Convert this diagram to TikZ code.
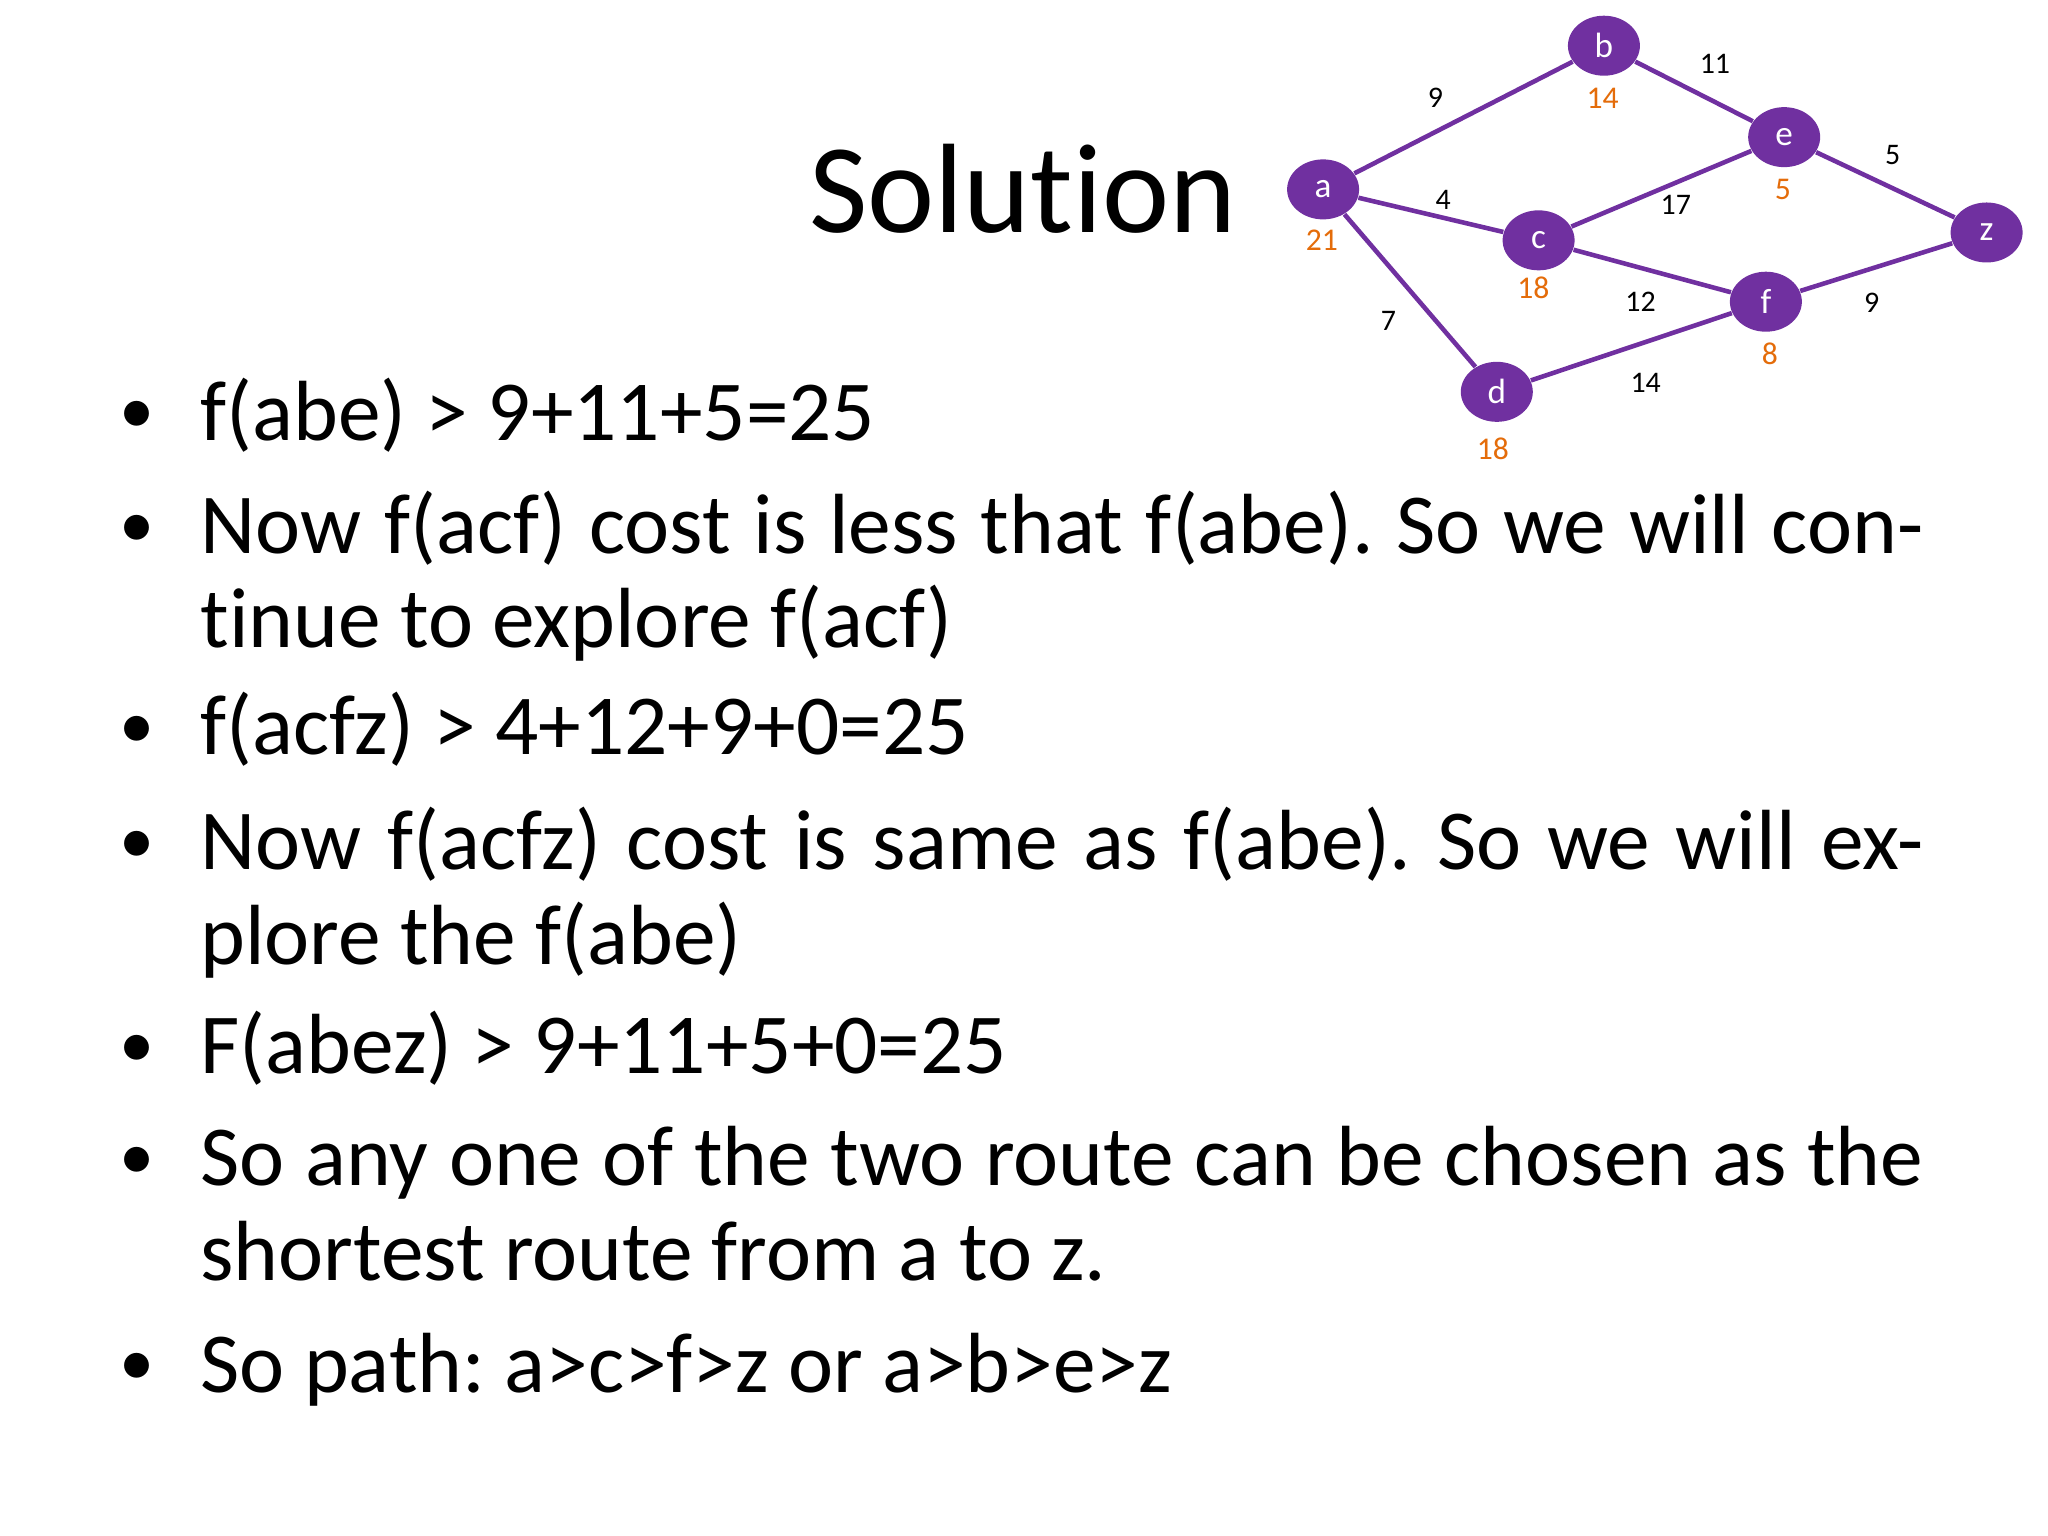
\documentclass[tikz,border=0pt]{standalone}
\usepackage{fontspec}
\setmainfont[Ligatures=NoCommon]{Carlito}
\usetikzlibrary{shapes.geometric}
\definecolor{vert}{HTML}{7030A0}
\definecolor{hv}{HTML}{E46C0A}
\frenchspacing
\begin{document}
\begin{tikzpicture}[x=0.013061cm,y=-0.013061cm,
  vtx/.style={ellipse,fill=vert,minimum width=0.72cm,minimum height=0.6cm,inner sep=0pt,text=white,font=\fontsize{10}{10}\selectfont},
  hlab/.style={text=hv,font=\fontsize{9}{9}\selectfont,inner sep=0pt},
  wlab/.style={font=\fontsize{8.5}{8.5}\selectfont,inner sep=0pt},
  edge/.style={draw=vert,line width=1.3pt},
  item/.style={anchor=base west,inner sep=0pt,font=\fontsize{24.3}{26.8}\selectfont\frenchspacing},
  bul/.style={anchor=base,inner sep=0pt,font=\fontsize{20}{20}\selectfont}]
\useasboundingbox (0,0) rectangle (1568,1176);
\node[anchor=base,inner sep=0pt,font=\fontsize{36.2}{37}\selectfont] (title) at (783,178) {Solution};
% graph
\node[vtx] (a) at (1013,145) {a};
\node[vtx] (b) at (1228,35) {b};
\node[vtx] (c) at (1178,184) {c};
\node[vtx] (d) at (1146,300) {d};
\node[vtx] (e) at (1366,105) {e};
\node[vtx] (f) at (1352,231) {f};
\node[vtx] (z) at (1521,178) {z};
\draw[edge] (a)--(b); \draw[edge] (a)--(c); \draw[edge] (a)--(d);
\draw[edge] (b)--(e); \draw[edge] (c)--(e); \draw[edge] (c)--(f);
\draw[edge] (d)--(f); \draw[edge] (e)--(z); \draw[edge] (f)--(z);
\node[hlab] (ha) at (1012,184) {21};
\node[hlab] (hb) at (1227,75) {14};
\node[hlab] (hc) at (1174,220) {18};
\node[hlab] (hd) at (1143,344) {18};
\node[hlab] (he) at (1365,145) {5};
\node[hlab] (hf) at (1355,271) {8};
\node[wlab] (w1) at (1099,75) {9};
\node[wlab] (w2) at (1313,49) {11};
\node[wlab] (w3) at (1105,153) {4};
\node[wlab] (w4) at (1283,157) {17};
\node[wlab] (w5) at (1449,119) {5};
\node[wlab] (w6) at (1063,246) {7};
\node[wlab] (w7) at (1256,231) {12};
\node[wlab] (w8) at (1433,232) {9};
\node[wlab] (w9) at (1260,293) {14};
% bullets
\foreach \y/\n in {332/1,419/2,573/3,661/4,817/5,903/6,1061/7}{\node[bul] (b\n) at (105,\y) {•};}
\node[item] (t1) at (153,337) {f(abe) > 9+11+5=25};
\node[item] (t2) at (153,424) {\parbox[t]{17.23cm}{Now f(acf) cost is less that f(abe). So we will continue to explore f(acf)}};
\node[item] (t3) at (153,578) {f(acfz) > 4+12+9+0=25};
\node[item] (t4) at (153,666) {\parbox[t]{17.23cm}{Now f(acfz) cost is same as f(abe). So we will explore the f(abe)}};
\node[item] (t5) at (153,822) {F(abez) > 9+11+5+0=25};
\node[item] (t6) at (153,908) {\parbox[t]{17.23cm}{So any one of the two route can be chosen as the shortest route from a to z.}};
\node[item] (t7) at (153,1066) {So path: a>c>f>z or a>b>e>z};
\end{tikzpicture}
\end{document}
